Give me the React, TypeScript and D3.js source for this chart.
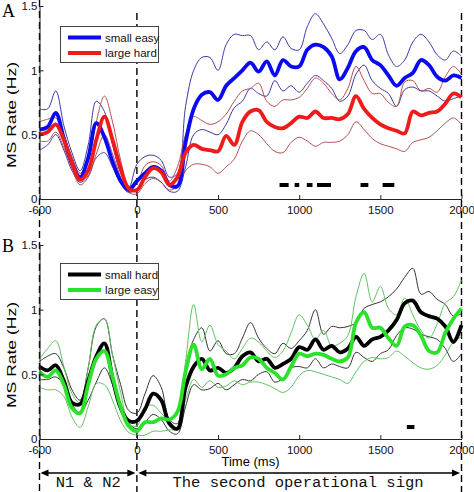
import React, { useEffect, useRef } from "react";
import * as d3 from "d3";

// time axis (ms), sampled every 50 ms
const times = [
  -600, -550, -500, -450, -400, -350, -300, -250, -200, -150, -100, -50, 0, 50, 100, 150, 200, 250, 300, 350, 400,
  450, 500, 550, 600, 650, 700, 750, 800, 850, 900, 950, 1000, 1050, 1100, 1150, 1200, 1250, 1300, 1350, 1400, 1450,
  1500, 1550, 1600, 1650, 1700, 1750, 1800, 1850, 1900, 1950, 2000,
];

// panel A
const smallEasy = [
  0.54, 0.56, 0.67, 0.47, 0.28, 0.17, 0.32, 0.59, 0.48, 0.29, 0.14, 0.07, 0.14, 0.2, 0.25, 0.22, 0.11, 0.1, 0.44, 0.7,
  0.81, 0.83, 0.77, 0.88, 0.94, 1.0, 1.06, 0.99, 1.07, 0.96, 1.08, 1.03, 1.03, 1.16, 1.2, 1.18, 1.11, 0.93, 1.02, 1.15,
  1.18, 1.08, 1.04, 0.96, 0.88, 0.94, 0.98, 1.08, 1.04, 0.95, 0.92, 0.96, 0.94,
];
const smallEasyHi = [
  0.7, 0.7, 0.84, 0.57, 0.36, 0.22, 0.42, 0.76, 0.68, 0.42, 0.2, 0.09, 0.27, 0.33, 0.34, 0.3, 0.17, 0.2, 0.72, 1.0,
  1.1, 1.1, 1.0, 1.2, 1.28, 1.27, 1.27, 1.16, 1.22, 1.16, 1.26, 1.17, 1.16, 1.34, 1.44, 1.36, 1.25, 1.13, 1.2, 1.31,
  1.31, 1.24, 1.28, 1.12, 1.03, 1.08, 1.22, 1.28, 1.22, 1.12, 1.08, 1.15, 1.11,
];
const smallEasyLo = [
  0.38, 0.42, 0.5, 0.38, 0.22, 0.13, 0.18, 0.32, 0.36, 0.25, 0.12, 0.05, 0.08, 0.15, 0.17, 0.13, 0.06, 0.06, 0.25, 0.5,
  0.54, 0.52, 0.5, 0.58, 0.71, 0.76, 0.86, 0.82, 0.8, 0.92, 0.84, 0.88, 0.83, 0.9, 0.96, 0.92, 0.86, 0.76, 0.8, 0.97,
  1.04, 0.92, 0.86, 0.82, 0.72, 0.85, 0.87, 0.84, 0.84, 0.8, 0.76, 0.78, 0.8,
];
const largeHard = [
  0.5, 0.52, 0.58, 0.46, 0.28, 0.15, 0.22, 0.46, 0.64, 0.46, 0.24, 0.08, 0.07, 0.17, 0.24, 0.21, 0.11, 0.17, 0.36, 0.42,
  0.39, 0.38, 0.37, 0.49, 0.42, 0.6, 0.68, 0.69, 0.6, 0.56, 0.55, 0.59, 0.64, 0.63, 0.68, 0.63, 0.63, 0.62, 0.66, 0.8,
  0.7, 0.63, 0.58, 0.55, 0.53, 0.51, 0.68, 0.65, 0.67, 0.68, 0.74, 0.82, 0.79,
];
const largeHardHi = [
  0.6, 0.62, 0.63, 0.5, 0.33, 0.2, 0.3, 0.6, 0.8, 0.6, 0.3, 0.1, 0.12, 0.26, 0.29, 0.26, 0.14, 0.25, 0.5, 0.64, 0.61,
  0.58, 0.6, 0.66, 0.76, 0.84, 0.86, 0.9, 0.76, 0.72, 0.77, 0.77, 0.79, 0.86, 0.94, 0.9, 0.82, 0.77, 0.86, 1.03, 0.92,
  0.82, 0.82, 0.75, 0.72, 0.91, 0.92, 0.84, 0.86, 0.83, 0.95, 1.03, 0.97,
];
const largeHardLo = [
  0.45, 0.45, 0.52, 0.4, 0.24, 0.11, 0.17, 0.35, 0.5, 0.35, 0.17, 0.05, 0.04, 0.12, 0.16, 0.13, 0.07, 0.1, 0.22, 0.27,
  0.27, 0.25, 0.2, 0.25, 0.31, 0.45, 0.53, 0.5, 0.43, 0.37, 0.36, 0.44, 0.48, 0.45, 0.41, 0.44, 0.44, 0.45, 0.5, 0.6,
  0.54, 0.47, 0.43, 0.41, 0.39, 0.37, 0.44, 0.46, 0.48, 0.53, 0.59, 0.63, 0.58,
];

// panel B
const smallHard = [
  0.56, 0.53, 0.57, 0.45, 0.28, 0.27, 0.45, 0.64, 0.74, 0.47, 0.24, 0.14, 0.14, 0.23, 0.35, 0.3, 0.12, 0.08, 0.4, 0.56,
  0.62, 0.53, 0.55, 0.51, 0.55, 0.64, 0.67, 0.6, 0.62, 0.55, 0.58, 0.62, 0.71, 0.69, 0.77, 0.69, 0.72, 0.67, 0.7, 0.79,
  0.72, 0.77, 0.79, 0.84, 0.92, 1.05, 1.07, 0.98, 0.95, 0.93, 0.87, 0.75, 0.88,
];
const smallHardHi = [
  0.6, 0.64, 0.66, 0.55, 0.38, 0.3, 0.55, 0.87, 0.93, 0.65, 0.42, 0.22, 0.2, 0.35, 0.49, 0.4, 0.15, 0.12, 0.55, 0.77,
  0.86, 0.68, 0.76, 0.66, 0.66, 0.78, 0.9, 0.78, 0.7, 0.66, 0.74, 0.7, 0.76, 0.84, 1.0, 0.81, 0.87, 0.86, 0.87, 0.9,
  1.01, 1.04, 1.06, 1.1, 1.16, 1.25, 1.32, 1.12, 1.14, 1.08, 1.04, 0.95, 0.97,
];
const smallHardLo = [
  0.46, 0.46, 0.48, 0.42, 0.27, 0.2, 0.3, 0.44, 0.55, 0.42, 0.22, 0.12, 0.08, 0.13, 0.19, 0.15, 0.06, 0.04, 0.25, 0.42,
  0.38, 0.39, 0.43, 0.38, 0.42, 0.46, 0.45, 0.5, 0.52, 0.44, 0.47, 0.55, 0.56, 0.55, 0.62, 0.55, 0.58, 0.56, 0.55, 0.67,
  0.63, 0.6, 0.66, 0.69, 0.8, 0.86, 0.85, 0.81, 0.79, 0.77, 0.7, 0.6, 0.66,
];
const largeEasy = [
  0.52, 0.48, 0.53, 0.42, 0.24, 0.2, 0.42, 0.62, 0.68, 0.48, 0.25, 0.1, 0.06, 0.13, 0.13, 0.16, 0.15, 0.21, 0.52, 0.73,
  0.54, 0.62, 0.49, 0.5, 0.55, 0.57, 0.63, 0.62, 0.55, 0.51, 0.46, 0.56, 0.66, 0.64, 0.66, 0.65, 0.62, 0.6, 0.63, 0.9,
  0.98, 0.86, 0.86, 0.78, 0.72, 0.87, 0.88, 0.8, 0.68, 0.67, 0.82, 0.93, 1.01,
];
const largeEasyHi = [
  0.62, 0.7, 0.76, 0.56, 0.35, 0.28, 0.55, 0.88, 0.93, 0.65, 0.36, 0.12, 0.1, 0.25, 0.26, 0.2, 0.15, 0.2, 0.6, 1.04,
  0.75, 0.88, 0.73, 0.68, 0.62, 0.7, 0.78, 0.75, 0.68, 0.63, 0.68, 0.82, 0.96, 0.88, 0.77, 0.84, 0.72, 0.74, 0.8, 1.1,
  1.28, 1.06, 1.18, 1.01, 0.96, 1.09, 0.96, 0.84, 0.78, 0.89, 1.05, 1.1, 1.23,
];
const largeEasyLo = [
  0.4, 0.38, 0.38, 0.33, 0.17, 0.09, 0.25, 0.43, 0.42, 0.3, 0.14, 0.05, 0.03, 0.03, 0.06, 0.06, 0.07, 0.08, 0.3, 0.46,
  0.4, 0.45, 0.4, 0.41, 0.45, 0.42, 0.44, 0.44, 0.42, 0.39, 0.36, 0.4, 0.49, 0.53, 0.52, 0.5, 0.48, 0.46, 0.43, 0.52,
  0.6, 0.63, 0.62, 0.63, 0.68, 0.64, 0.59, 0.55, 0.54, 0.57, 0.65, 0.75, 0.79,
];

// significant intervals (ms)
const sigA = [
  [879, 935],
  [972, 1000],
  [1047, 1082],
  [1110, 1196],
  [1378, 1426],
  [1514, 1586],
];
const sigB = [[1663, 1710]];

const xTicks = [-600, 0, 500, 1000, 1500, 2000];
const yTicks = [0, 0.5, 1, 1.5];
const legendA = ["small easy", "large hard"];
const legendB = ["small hard", "large easy"];

const SANS = "Liberation Sans, Arial, sans-serif";

const App = () => {
  const svgRef = useRef(null);
  const width = 474;
  const height = 492;

  useEffect(() => {
    const svg = d3.select(svgRef.current);
    svg.selectAll("*").remove();

    const x = d3.scaleLinear().domain([-600, 2000]).range([39.5, 461.5]);

    // dashed event markers (under everything else)
    [
      [-600, 0],
      [0, 13],
      [2000, 13],
    ].forEach(([t, top]) => {
      svg
        .append("line")
        .attr("x1", x(t))
        .attr("x2", x(t))
        .attr("y1", top)
        .attr("y2", height)
        .attr("stroke", "#000")
        .attr("stroke-width", 1.4)
        .attr("stroke-dasharray", "7,4");
    });

    const panels = [
      {
        y: d3.scaleLinear().domain([0, 1.5]).range([199, 6]),
        letter: "A",
        letterY: 17,
        labelY: 115,
        sig: sigA,
        sigY: 185,
        legend: legendA,
        legendTop: 26,
        series: [
          { v: smallEasyHi, c: "#3a3aa6", w: 1 },
          { v: smallEasyLo, c: "#3a3aa6", w: 1 },
          { v: largeHardHi, c: "#b8504e", w: 1 },
          { v: largeHardLo, c: "#b8504e", w: 1 },
          { v: smallEasy, c: "#0a0af2", w: 3.8 },
          { v: largeHard, c: "#ee1b1b", w: 3.8 },
        ],
        legendColors: ["#0a0af2", "#ee1b1b"],
        timeLabel: false,
      },
      {
        y: d3.scaleLinear().domain([0, 1.5]).range([439, 245]),
        letter: "B",
        letterY: 252,
        labelY: 355,
        sig: sigB,
        sigY: 427,
        legend: legendB,
        legendTop: 263,
        series: [
          { v: smallHardHi, c: "#333333", w: 1 },
          { v: smallHardLo, c: "#333333", w: 1 },
          { v: largeEasyHi, c: "#62c262", w: 1 },
          { v: largeEasyLo, c: "#62c262", w: 1 },
          { v: smallHard, c: "#000000", w: 3.8 },
          { v: largeEasy, c: "#2be22b", w: 3.8 },
        ],
        legendColors: ["#000000", "#2be22b"],
        timeLabel: true,
      },
    ];

    panels.forEach((p) => {
      const g = svg.append("g");
      const line = d3
        .line<number>()
        .x((d, i) => x(times[i]))
        .y((d) => p.y(d))
        .curve(d3.curveCatmullRom.alpha(0.5));

      g.selectAll("path.series")
        .data(p.series)
        .join("path")
        .attr("class", "series")
        .attr("fill", "none")
        .attr("stroke", (d) => d.c)
        .attr("stroke-width", (d) => d.w)
        .attr("stroke-linejoin", "round")
        .attr("d", (d) => line(d.v));

      g.selectAll("rect.sig")
        .data(p.sig)
        .join("rect")
        .attr("class", "sig")
        .attr("x", (d) => x(d[0]))
        .attr("width", (d) => x(d[1]) - x(d[0]))
        .attr("y", p.sigY - 2)
        .attr("height", 4)
        .attr("fill", "#000");

      const y0 = p.y(0);
      const xAxis = g
        .append("g")
        .attr("transform", `translate(0,${y0})`)
        .call(d3.axisBottom(x).tickValues(xTicks).tickSize(-4).tickSizeOuter(0).tickPadding(6.5).tickFormat((d) => String(d)));
      const yAxis = g
        .append("g")
        .attr("transform", `translate(${x(-600)},0)`)
        .call(d3.axisLeft(p.y).tickValues(yTicks).tickSize(-4).tickSizeOuter(0).tickPadding(2).tickFormat((d) => String(d)));
      [xAxis, yAxis].forEach((a) => {
        a.attr("font-family", SANS).attr("font-size", 11.5);
        a.selectAll("text").attr("fill", "#111");
        a.selectAll("line,path").attr("stroke", "#222");
      });

      // legend (drawn over the dashed markers)
      const lg = g.append("g");
      lg.append("rect")
        .attr("x", 60.5)
        .attr("y", p.legendTop + 0.5)
        .attr("width", 98)
        .attr("height", 36)
        .attr("fill", "#fff")
        .attr("stroke", "#444");
      p.legend.forEach((name, i) => {
        const ly = p.legendTop + 11.5 + i * 15.5;
        lg.append("line")
          .attr("x1", 68)
          .attr("x2", 101)
          .attr("y1", ly)
          .attr("y2", ly)
          .attr("stroke", p.legendColors[i])
          .attr("stroke-width", 4);
        lg.append("text")
          .attr("x", 105)
          .attr("y", ly + 4)
          .attr("font-family", SANS)
          .attr("font-size", 11.5)
          .attr("fill", "#111")
          .text(name);
      });

      svg
        .append("text")
        .attr("x", 2)
        .attr("y", p.letterY)
        .attr("font-family", "Liberation Serif, serif")
        .attr("font-size", 18)
        .text(p.letter);

      svg
        .append("text")
        .attr("transform", `translate(16,${p.labelY}) rotate(-90)`)
        .attr("text-anchor", "middle")
        .attr("font-family", SANS)
        .attr("font-size", 13)
        .attr("textLength", 106)
        .attr("lengthAdjust", "spacingAndGlyphs")
        .text("MS Rate (Hz)");

      if (p.timeLabel) {
        svg
          .append("text")
          .attr("x", (x(-600) + x(2000)) / 2)
          .attr("y", 466)
          .attr("text-anchor", "middle")
          .attr("font-family", SANS)
          .attr("font-size", 13)
          .text("Time (ms)");
      }
    });

    // epoch arrows
    const ay = 473;
    const arrow = (a: number, b: number) => {
      svg
        .append("line")
        .attr("x1", a + 2)
        .attr("x2", b - 2)
        .attr("y1", ay)
        .attr("y2", ay)
        .attr("stroke", "#000")
        .attr("stroke-width", 1.3);
      svg.append("path").attr("d", `M${a},${ay}L${a + 8},${ay - 3.5}L${a + 8},${ay + 3.5}Z`).attr("fill", "#000");
      svg.append("path").attr("d", `M${b},${ay}L${b - 8},${ay - 3.5}L${b - 8},${ay + 3.5}Z`).attr("fill", "#000");
    };
    arrow(x(-600) + 1, x(0) - 1.5);
    arrow(x(0) + 1.5, x(2000) - 1.5);

    [
      ["N1 & N2", (x(-600) + x(0)) / 2],
      ["The second operational sign", 298],
    ].forEach(([label, cx]) => {
      svg
        .append("text")
        .attr("x", cx as number)
        .attr("y", 487)
        .attr("text-anchor", "middle")
        .attr("font-family", "Liberation Mono, monospace")
        .attr("font-size", 15.5)
        .attr("fill", "#111")
        .text(label as string);
    });
  }, []);

  return (
    <svg
      ref={svgRef}
      width={width}
      height={height}
      style={{ position: "absolute", left: 0, top: 0, background: "#fff" }}
    />
  );
};

export default App;
